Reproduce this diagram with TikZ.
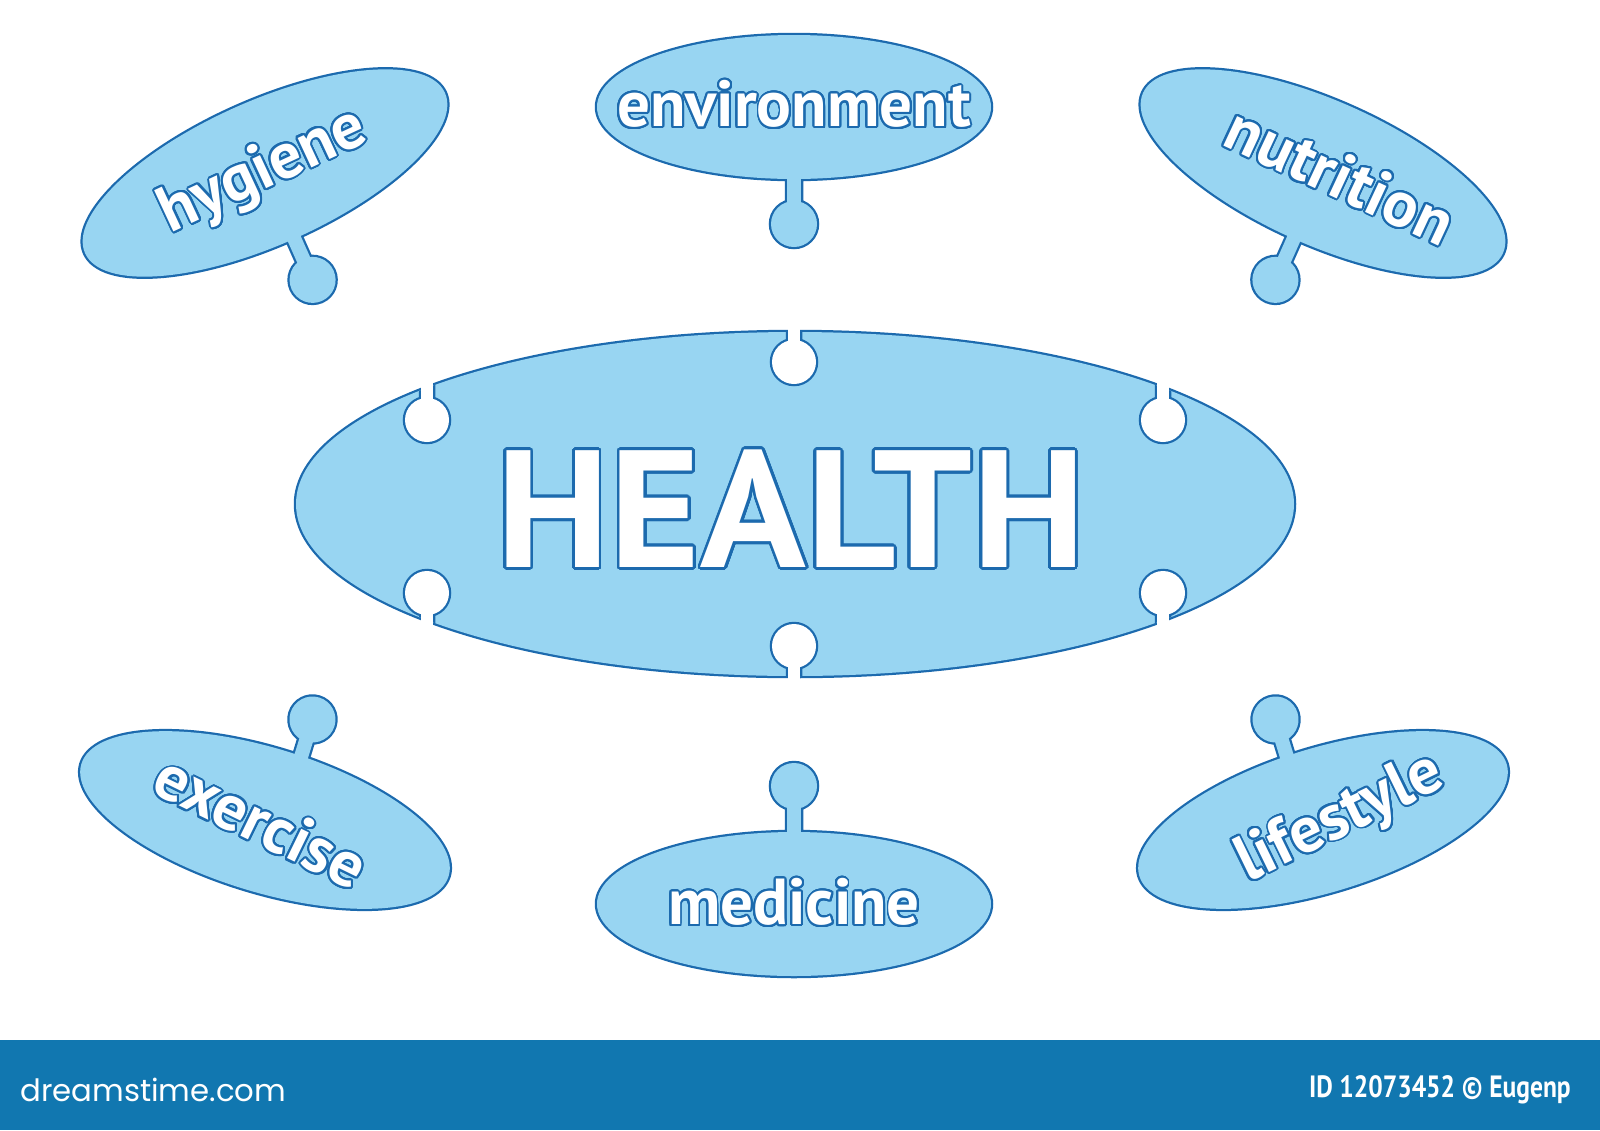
\documentclass[tikz,border=0pt]{standalone}
\usepackage{fontspec}
\setmainfont{PT Sans}
\newfontfamily\logofont{Poppins}
\usepackage[copies]{contour}
\contournumber{32}
\contourlength{1.1pt}
\definecolor{relleno}{RGB}{152,213,242}
\definecolor{borde}{RGB}{28,106,174}
\definecolor{barra}{RGB}{17,119,176}

\tikzset{
  contorno/.style={draw=borde, line width=0.09cm}, % el doble del trazo visible
  etiqueta/.style={text=white, inner sep=0pt, font=\bfseries\fontsize{37}{37}\selectfont},
}

% burbuja pequena: centro, angulo, distancia del boton (+ abajo, - arriba), corrimiento del boton, semieje
\newcommand{\burbuja}[5]{%
  \begin{scope}[shift={#1}, rotate=#2]
    \draw[contorno] (0,0) ellipse (#5 and 72) (#4-7,0) rectangle (#4+7,#3) (#4,#3) circle (23);
    \fill[relleno] (0,0) ellipse (#5 and 72);
    \fill[relleno] (#4-7,0) rectangle (#4+7,#3);
    \fill[relleno] (#4,#3) circle (23);
  \end{scope}}

\begin{document}
\begin{tikzpicture}[x=0.02cm, y=-0.02cm]
  \useasboundingbox (0,0) rectangle (1600,1130);
  % elipse central
  \draw[contorno] (795,504) ellipse (499 and 172);
  \fill[relleno] (795,504) ellipse (499 and 172);
  \begin{scope}
    \clip (795,504) ellipse (499 and 172);
    \foreach \x/\y/\s in {427/420/-1, 794/362/-1, 1163/420/-1, 427/593/1, 794/646/1, 1163/593/1}
      \draw[contorno] (\x,\y) circle (22) (\x-6,\y) rectangle (\x+6,\y+40*\s);
  \end{scope}
  \foreach \x/\y/\s in {427/420/-1, 794/362/-1, 1163/420/-1, 427/593/1, 794/646/1, 1163/593/1}{
    \fill[white] (\x,\y) circle (22);
    \fill[white] (\x-6,\y) rectangle (\x+6,\y+40*\s);
  }
  \node[text=white, inner sep=0pt, xscale=1.045, font=\bfseries\fontsize{95}{95}\selectfont] (salud) at (791,510)
    {\contourlength{1.5pt}\contour{borde}{HEALTH}};
  % burbujas de arriba
  \burbuja{(265,173)}{24}{117}{0}{197}
  \burbuja{(794,107)}{0}{117}{0}{197}
  \burbuja{(1323,173)}{-24}{117}{0}{197}
  % burbujas de abajo
  \burbuja{(265,820)}{-17}{-110}{16}{192}
  \burbuja{(794,904)}{0}{-118}{0}{197}
  \burbuja{(1323,820)}{17}{-110}{-16}{192}
  \node[etiqueta, rotate=25] (higiene) at (264,173) {\contour{borde}{hygiene}};
  \node[etiqueta] (ambiente) at (794,105) {\contour{borde}{environment}};
  \node[etiqueta, rotate=-25] (nutricion) at (1340,176) {\contour{borde}{nutrition}};
  \node[etiqueta, rotate=-26] (ejercicio) at (261,822) {\contour{borde}{exercise}};
  \node[etiqueta] (medicina) at (794,903) {\contour{borde}{medicine}};
  \node[etiqueta, rotate=26] (estilo) at (1341,820) {\contour{borde}{lifestyle}};
  % barra inferior
  \fill[barra] (0,1040) rectangle (1600,1130);
  \node[anchor=west, text=white, inner sep=0pt, font=\logofont\fontsize{17.5}{17.5}\selectfont] (logo) at (20,1090) {dreamstime.com};
  \node[anchor=east, text=white, inner sep=0pt, xscale=0.83, font=\bfseries\fontsize{17.5}{17.5}\selectfont] (credito) at (1571,1090) {ID 12073452 © Eugenp};
\end{tikzpicture}
\end{document}
